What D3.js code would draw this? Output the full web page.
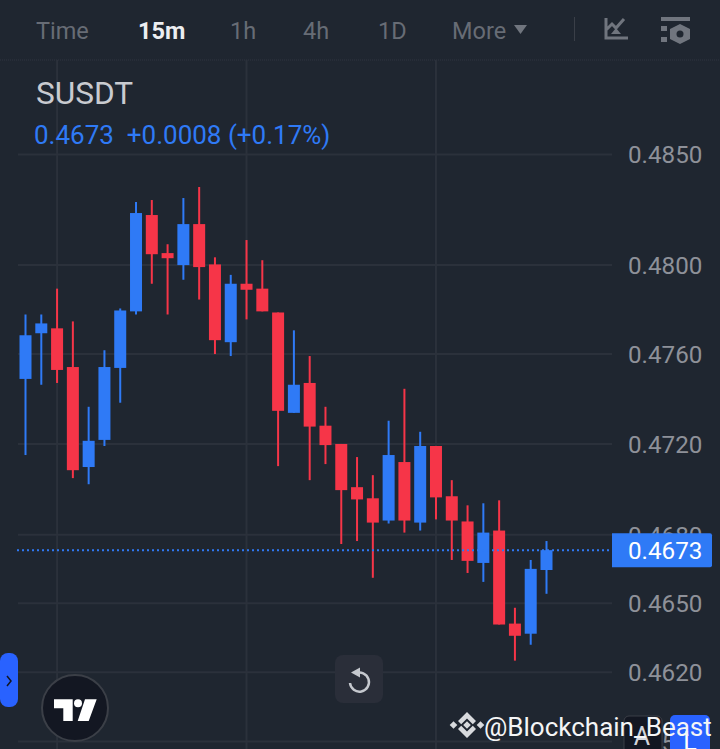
<!DOCTYPE html>
<html>
<head>
<meta charset="utf-8">
<script src="https://cdn.jsdelivr.net/npm/d3@7"></script>
<style>
html, body { margin: 0; padding: 0; background: #1f2630; overflow: hidden; }
text { font-family: Roboto, sans-serif; }
</style>
</head>
<body>
<div id="graph"></div>
<script>
var priceTicks = [0.4850, 0.4800, 0.4760, 0.4720, 0.4680, 0.4650, 0.4620, 0.4590];
var intervals = ["Time", "15m", "1h", "4h", "1D", "More"];

var opens  = [0.47487, 0.47691, 0.47713, 0.47540, 0.47096, 0.47216, 0.47536, 0.47789, 0.48223, 0.48051, 0.47997, 0.48182, 0.48000, 0.47651, 0.47913, 0.47891, 0.47784, 0.47336, 0.47469, 0.47279, 0.47198, 0.47007, 0.46958, 0.46860, 0.47118, 0.46851, 0.47189, 0.46967, 0.46856, 0.46674, 0.46816, 0.46409, 0.46365, 0.46643];
var highs  = [0.47775, 0.47775, 0.47891, 0.47744, 0.47363, 0.47615, 0.47802, 0.48282, 0.48291, 0.48091, 0.48300, 0.48350, 0.48032, 0.47953, 0.48110, 0.48019, 0.47784, 0.47704, 0.47589, 0.47363, 0.47198, 0.47140, 0.47060, 0.47301, 0.47443, 0.47252, 0.47189, 0.47038, 0.46927, 0.46936, 0.46949, 0.46478, 0.46687, 0.46770];
var lows   = [0.47149, 0.47461, 0.47469, 0.47047, 0.47020, 0.47189, 0.47381, 0.47775, 0.47913, 0.47775, 0.47931, 0.47842, 0.47598, 0.47589, 0.47753, 0.47789, 0.47100, 0.47336, 0.47038, 0.47109, 0.46757, 0.46770, 0.46609, 0.46847, 0.46807, 0.46816, 0.46865, 0.46687, 0.46630, 0.46591, 0.46405, 0.46248, 0.46317, 0.46539];
var closes = [0.47682, 0.47735, 0.47527, 0.47082, 0.47212, 0.47540, 0.47793, 0.48232, 0.48046, 0.48028, 0.48182, 0.47988, 0.47660, 0.47913, 0.47886, 0.47789, 0.47345, 0.47461, 0.47275, 0.47193, 0.46994, 0.46953, 0.46851, 0.47149, 0.46860, 0.47189, 0.46962, 0.46860, 0.46683, 0.46807, 0.46405, 0.46356, 0.46648, 0.46730];
var gridCandles = [2, 14, 26];
var lastPrice = 0.4673;

var width = 720, height = 749;
var blue = "#2f7af6", red = "#f63548", grid = "#2b313b";

var svg = d3.select("#graph").append("svg")
    .attr("width", width)
    .attr("height", height)
    .style("display", "block");

var x = d3.scaleLinear().domain([0, opens.length - 1]).range([25.5, 546.5]);
var y = d3.scaleLog().domain([0.4850, 0.4620]).range([154, 671.7]);

// top bar
var bar = svg.append("g");
var barX = [36, 138, 230, 303, 378, 452];
bar.selectAll("text").data(intervals).enter().append("text")
    .attr("x", function(d, i) { return barX[i]; })
    .attr("y", 39)
    .attr("font-size", 23.5)
    .attr("font-weight", function(d) { return d == "15m" ? 700 : 400; })
    .attr("fill", function(d) { return d == "15m" ? "#eceef1" : "#676c75"; })
    .text(function(d) { return d; });
bar.append("path").attr("d", "M514 25h13l-6.5 9z").attr("fill", "#70757e");
bar.append("rect").attr("x", 574).attr("y", 17).attr("width", 1).attr("height", 24).attr("fill", "#3a3f48");
// indicator icon
bar.append("path")
    .attr("d", "M606 18v20h22M606 30l6-6 4 4 8-9")
    .attr("fill", "none").attr("stroke", "#70757e").attr("stroke-width", 3);
bar.append("path").attr("d", "M611 34l5-6 5 6z").attr("fill", "#70757e");
// settings icon
bar.append("rect").attr("x", 661).attr("y", 17).attr("width", 29).attr("height", 4).attr("fill", "#70757e");
bar.append("rect").attr("x", 661).attr("y", 26).attr("width", 6).attr("height", 5).attr("fill", "#70757e");
bar.append("rect").attr("x", 661).attr("y", 37).attr("width", 6).attr("height", 5).attr("fill", "#70757e");
bar.append("path").attr("d", "M680 24l10 5v10l-10 5-10-5v-10z").attr("fill", "#70757e");
bar.append("circle").attr("cx", 680).attr("cy", 34).attr("r", 3.5).attr("fill", "#1f2630");

svg.append("line")
    .attr("x1", 0).attr("x2", width).attr("y1", 60).attr("y2", 60)
    .attr("stroke", grid).attr("stroke-width", 1.5).attr("stroke-dasharray", "1 1");

// vertical grid
svg.append("g").selectAll("line").data(gridCandles).enter().append("line")
    .attr("x1", function(d) { return x(d); })
    .attr("x2", function(d) { return x(d); })
    .attr("y1", 60).attr("y2", height)
    .attr("stroke", grid).attr("stroke-width", 2);

// price axis with horizontal grid
var axis = svg.append("g")
    .attr("transform", "translate(612,0)")
    .call(d3.axisRight(y).tickValues(priceTicks).tickSize(-594).tickPadding(16).tickFormat(d3.format(".4f")));
axis.select(".domain").remove();
axis.selectAll(".tick line").attr("stroke", grid).attr("stroke-width", 2);
axis.selectAll(".tick text").attr("font-size", 24.2).attr("dy", "0.37em").attr("font-family", "Roboto, sans-serif").attr("fill", "#8e9199");

// candles
var candles = svg.append("g").selectAll("g").data(opens).enter().append("g")
    .attr("fill", function(d, i) { return closes[i] >= d ? blue : red; });
candles.append("rect")
    .attr("x", function(d, i) { return x(i) - 1; })
    .attr("width", 2)
    .attr("y", function(d, i) { return y(highs[i]); })
    .attr("height", function(d, i) { return y(lows[i]) - y(highs[i]); });
candles.append("rect")
    .attr("x", function(d, i) { return x(i) - 6; })
    .attr("width", 12)
    .attr("y", function(d, i) { return y(Math.max(d, closes[i])); })
    .attr("height", function(d, i) { return Math.abs(y(d) - y(closes[i])); });

// last price line and tag
svg.append("line")
    .attr("x1", 17).attr("x2", 612).attr("y1", y(lastPrice)).attr("y2", y(lastPrice))
    .attr("stroke", blue).attr("stroke-width", 2).attr("stroke-dasharray", "2 3");
svg.append("path")
    .attr("d", "M612 " + (y(lastPrice) - 17) + "h98a2 2 0 0 1 2 2v30a2 2 0 0 1-2 2h-98z")
    .attr("fill", blue);
svg.append("text")
    .attr("x", 628).attr("y", y(lastPrice) + 9)
    .attr("font-size", 24.2).attr("fill", "#ffffff")
    .text(d3.format(".4f")(lastPrice));

// legend
svg.append("text").attr("x", 36).attr("y", 104).attr("font-size", 31.6).attr("fill", "#c9cbd0").text("SUSDT");
svg.append("text").attr("x", 34).attr("y", 144).attr("font-size", 26).attr("fill", blue)
    .style("white-space", "pre").text("0.4673  +0.0008 (+0.17%)");

// left tab
svg.append("rect").attr("x", 0).attr("y", 653).attr("width", 18).attr("height", 54).attr("rx", 8).attr("fill", "#2962ff");
svg.append("path").attr("d", "M7 676l4 5-4 5").attr("fill", "none").attr("stroke", "#131722").attr("stroke-width", 1.5);

// logo
svg.append("circle").attr("cx", 75).attr("cy", 708).attr("r", 33).attr("fill", "#131722").attr("stroke", "#3b3f47").attr("stroke-width", 2);
svg.append("path").attr("d", "M54 699.3h18.7V721h-9.4v-12.7H54zM85 699.3h11.7L88.7 721H77.7z").attr("fill", "#ffffff");
svg.append("circle").attr("cx", 78).attr("cy", 703.3).attr("r", 4).attr("fill", "#ffffff");

// reset button
svg.append("rect").attr("x", 335).attr("y", 655).attr("width", 48).attr("height", 48).attr("rx", 8).attr("fill", "#2a2e39");
svg.append("path").attr("d", "M355.5 673.5A9.5 9.5 0 1 1 350 683").attr("fill", "none").attr("stroke", "#c5c8ce").attr("stroke-width", 2.5);
svg.append("path").attr("d", "M351 672.5l9-5v10z").attr("fill", "#c5c8ce");

// A and L buttons
svg.append("rect").attr("x", 624).attr("y", 716).attr("width", 38).attr("height", 40).attr("rx", 5).attr("fill", "#131722").attr("stroke", "#3b3f47");
svg.append("text").attr("x", 642).attr("y", 745).attr("text-anchor", "middle").attr("font-size", 25).attr("fill", "#d1d4dc").text("A");
svg.append("rect").attr("x", 670).attr("y", 715).attr("width", 40).attr("height", 42).attr("rx", 5).attr("fill", "#2962ff");
svg.append("text").attr("x", 690).attr("y", 750).attr("text-anchor", "middle").attr("font-size", 25).attr("fill", "#ffffff").text("L");

// watermark
var mark = svg.append("g").attr("fill", "#d8dadd");
mark.append("path").attr("d", "M467 712l9 9-3.2 3.2-5.8-5.8-5.8 5.8-3.2-3.2z");
mark.append("path").attr("d", "M467 738l9-9-3.2-3.2-5.8 5.8-5.8-5.8-3.2 3.2z");
[453.5, 467, 480.5].forEach(function(cx) {
    mark.append("path").attr("d", "M" + cx + " 721.2l3.8 3.8-3.8 3.8-3.8-3.8z");
});
svg.append("text").attr("x", 484).attr("y", 736).attr("font-size", 26).attr("font-family", "'Noto Sans', sans-serif").attr("fill", "#f4f5f6").text("@Blockchain_Beast");
</script>
</body>
</html>
